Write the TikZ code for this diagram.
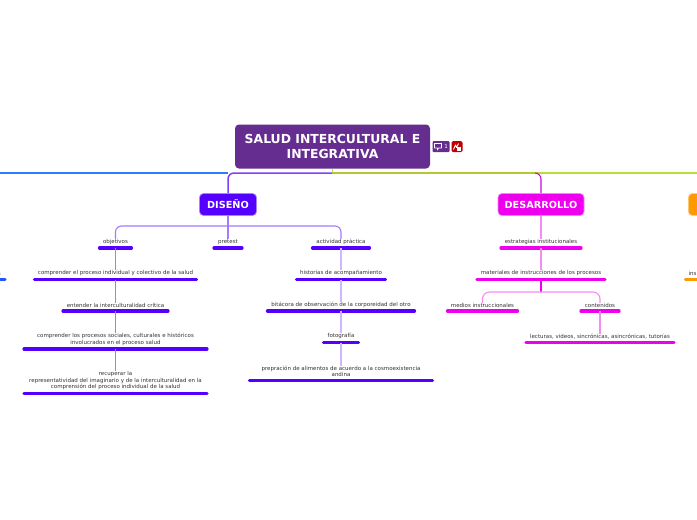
\documentclass[tikz,border=0pt]{standalone}
\usepackage{fontspec}
\setmainfont{DejaVu Sans}
\usetikzlibrary{calc}
\definecolor{rootc}{HTML}{662D91}
\definecolor{discol}{HTML}{5500FF}
\definecolor{descol}{HTML}{EE00EE}
\definecolor{oracol}{HTML}{FF9900}
\definecolor{blucol}{HTML}{2F7BFF}
\definecolor{limcol}{HTML}{B5C72E}
\definecolor{limtwo}{HTML}{B8DE3A}
\definecolor{linka}{HTML}{A27BFF}
\definecolor{linkb}{HTML}{CDB8FF}
\definecolor{linkc}{HTML}{F58CF5}
\tikzset{
 px/.style={x=1pt,y=-1pt},
 lab/.style={font=\fontsize{5.5}{6.7}\selectfont,text=black!80,align=center,inner sep=0pt,anchor=south},
 bar/.style={line width=3.2pt,line cap=round},
 conna/.style={line width=1.1pt,draw=linka},
 connb/.style={line width=1.3pt,draw=linkb},
 connc/.style={line width=1.1pt,draw=linkc},
 main/.style={rounded corners=4pt,text=white,inner sep=0pt,minimum height=22pt,font=\bfseries\fontsize{9.7}{11}\selectfont},
}
\newcommand{\tbar}[6]{%
 \coordinate (#1) at (#2,#4);
 \draw[bar,draw=#5] ($(#1)+(-#3,0)$) -- ($(#1)+(#3,0)$);
 \node[lab] (#1t) at ($(#1)+(0,-3.3)$) {#6};}
\begin{document}
\begin{tikzpicture}[px]
\useasboundingbox (0,0) rectangle (697,520);
\fill[white] (0,0) rectangle (697,520);
% root, topics
\node[main,fill=rootc,minimum width=195pt,minimum height=44pt,font=\bfseries\fontsize{12.4}{15}\selectfont,align=center] (root) at (332.5,146.5) {SALUD INTERCULTURAL E\\INTEGRATIVA};
\node[main,fill=discol,draw=discol!50,line width=.7pt,minimum width=57pt] (diseno) at (228,204.5) {DISEÑO};
\node[main,fill=descol,draw=descol!50,line width=.7pt,minimum width=86pt] (desa) at (541,204.5) {DESARROLLO};
\node[main,fill=oracol,draw=oracol!50,line width=.7pt,minimum width=40pt,anchor=west] (eval) at (688,204.5) {};
% badges
\node[fill=rootc,rounded corners=1pt,minimum width=17pt,minimum height=11pt,inner sep=0pt] (cm) at (441,146.5) {};
\node[anchor=east,inner sep=0pt,text=white,font=\fontsize{5.5}{5.5}\selectfont] (cmn) at (448,146.7) {1};
\draw[white,line width=.6pt,line join=round] (434.5,143.5) -- (441.5,143.5) -- (441.5,148) -- (438.5,148) -- (437.5,150) -- (437.5,148) -- (434.5,148) -- cycle;
\node[fill=red!75!black,rounded corners=1.5pt,minimum width=11pt,minimum height=11pt,inner sep=0pt] (ic) at (457,146.5) {};
\draw[white,line width=.9pt,line join=round] (453.5,149.5) -- (455.5,145) -- (456.5,147.5) -- (458.5,143.5);
\fill[white] (457,147) rectangle (460.5,150.5);
% trunk lines
\coordinate (rb) at (332,173);
\coordinate (jl) at (535,173);
\coordinate (jdd) at (228,173);
\draw[line width=1.7pt,draw=blucol] (jdd) -- (0,173);
\draw[line width=1.7pt,draw=limcol] (rb) -- (jl);
\draw[line width=1.7pt,draw=limtwo] (jl) -- (697,173);
\draw[line width=1pt,draw=limtwo] (root.south -| rb) -- (rb);
\draw[line width=1.5pt,draw=discol!75,rounded corners=6pt] (rb) -| (diseno.north);
\draw[line width=1.1pt,draw=descol!70!rootc,rounded corners=6pt] (jl) -| (desa.north);
% bars and labels
\tbar{a1}{115.5}{16}{248}{discol}{objetivos}
\tbar{a2}{115.5}{81}{279.5}{discol}{comprender el proceso individual y colectivo de la salud}
\tbar{a3}{115.5}{52.5}{311}{discol}{entender la interculturalidad crítica}
\tbar{a4}{115.5}{91.5}{349}{discol}{comprender los procesos sociales, culturales e históricos\\involucrados en el proceso salud}
\tbar{a5}{115.5}{91.5}{393.5}{discol}{recuperar la\\representatividad del imaginario y de la interculturalidad en la\\comprensión del proceso individual de la salud}
\tbar{b1}{228}{14}{248}{discol}{pretest}
\tbar{c1}{341}{28.5}{248}{discol}{actividad práctica}
\tbar{c2}{341}{44.5}{279.5}{discol}{historias de acompañamiento}
\tbar{c3}{341}{73.5}{311}{discol}{bitácora de observación de la corporeidad del otro}
\tbar{c4}{341}{17.5}{342.5}{discol}{fotografía}
\tbar{c5}{341}{91.5}{380.5}{discol}{prepración de alimentos de acuerdo a la cosmoexistencia\\andina}
\tbar{d1}{541}{40}{248}{descol}{estrategias institucionales}
\tbar{d2}{541}{64}{279.5}{descol}{materiales de instrucciones de los procesos}
\tbar{d3}{482.5}{35}{311}{descol}{medios instruccionales}
\tbar{d4}{600}{19}{311}{descol}{contenidos}
\tbar{d5}{600}{74}{342.5}{descol}{lecturas, videos, sincrónicas, asincrónicas, tutorías}
% connectors, Diseño
\coordinate (jd) at (228,226);
\draw[conna] (diseno.south) -- (jd);
\draw[conna] (jd) -- (b1t.north);
\draw[conna,rounded corners=6pt] (a1t.north) |- (jd);
\draw[conna,rounded corners=6pt] (jd) -| (c1t.north);
\draw[conna] (a1) -- (a2t.north);
\draw[conna] (a2) -- (a3t.north);
\draw[conna] (a3) -- (a4t.north);
\draw[conna] (a4) -- (a5t.north);
\draw[connb] (c1) -- (c2t.north);
\draw[connb] (c2) -- (c3t.north);
\draw[connb] (c3) -- (c4t.north);
\draw[connb] (c4) -- (c5t.north);
% connectors, Desarrollo
\coordinate (je) at (541,292);
\draw[connc] (desa.south) -- (d1t.north);
\draw[connc] (d1) -- (d2t.north);
\draw[line width=1.1pt,draw=descol] (d2) -- (je);
\draw[connc,rounded corners=7pt] (d3t.north) |- (je);
\draw[connc,rounded corners=7pt] (je) -| (d4t.north);
\draw[connc] (d4) -- (d5t.north);
% clipped pieces at the edges
\begin{scope}
\clip (0,0) rectangle (697,520);
\draw[bar,draw=blucol!70!blue] (-8,279.5) -- (5,279.5);
\draw[bar,draw=oracol] (685.5,279.5) -- (710,279.5);
\node[lab,anchor=south west] (x1) at (688.5,276.2) {ins};
\node[lab,anchor=south east] (x2) at (1,276.2) {s};
\end{scope}
\end{tikzpicture}
\end{document}
